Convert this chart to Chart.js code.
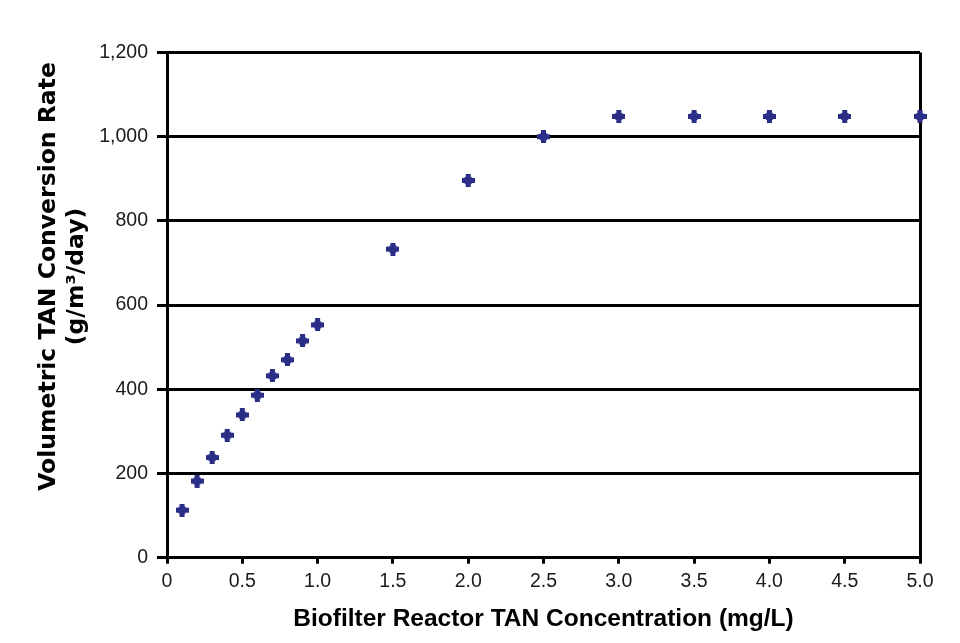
<!DOCTYPE html>
<html>
<head>
<meta charset="utf-8">
<script src="https://cdn.jsdelivr.net/npm/chart.js@4.4.1/dist/chart.umd.min.js"></script>
<style>
  html, body { margin: 0; padding: 0; background: #ffffff; }
  #wrap { width: 960px; height: 643px; position: relative; }
</style>
</head>
<body>
<div id="wrap"><canvas id="c"></canvas></div>
<script>
// ---- data ----
const tanConcentration = [0.1, 0.2, 0.3, 0.4, 0.5, 0.6, 0.7, 0.8, 0.9, 1.0, 1.5, 2.0, 2.5, 3.0, 3.5, 4.0, 4.5, 5.0];
const conversionRate   = [113, 182, 238, 291, 339, 386, 432, 470, 515, 553, 733, 896, 1000, 1048, 1048, 1048, 1048, 1048];
const xTickValues = [0, 0.5, 1.0, 1.5, 2.0, 2.5, 3.0, 3.5, 4.0, 4.5, 5.0];
const xTickLabels = ['0', '0.5', '1.0', '1.5', '2.0', '2.5', '3.0', '3.5', '4.0', '4.5', '5.0'];
const yTickLabels = ['0', '200', '400', '600', '800', '1,000', '1,200'];
const xTitle = 'Biofilter Reactor TAN Concentration (mg/L)';
const yTitle = ['Volumetric TAN Conversion Rate', '(g/m\u00B3/day)'];
const yTitleLead = '       '; // leading gap so the rotated title sits a little higher, as in the reference

// marker: rounded plus
function makeMarker() {
  const c = document.createElement('canvas');
  c.width = 13; c.height = 13;
  const g = c.getContext('2d');
  g.fillStyle = '#2b2e86';
  g.fillRect(0, 4, 13, 5);
  g.fillRect(4, 0, 5, 13);
  g.beginPath();
  g.arc(6.5, 6.5, 4.7, 0, Math.PI * 2);
  g.fill();
  return c;
}
const marker = makeMarker();

const points = tanConcentration.map((x, i) => ({ x: x, y: conversionRate[i] }));

new Chart(document.getElementById('c'), {
  type: 'scatter',
  data: {
    datasets: [{
      data: points,
      pointStyle: marker,
      pointRadius: 6,
      pointHoverRadius: 6,
      backgroundColor: '#2b2e86',
      borderColor: '#2b2e86',
      clip: false
    }]
  },
  options: {
    responsive: true,
    maintainAspectRatio: false,
    animation: false,
    devicePixelRatio: 1,
    layout: { padding: { left: 0, right: 40, top: 52.5, bottom: 0 } },
    plugins: { legend: { display: false }, tooltip: { enabled: false } },
    scales: {
      x: {
        type: 'linear',
        min: 0, max: 5,
        afterBuildTicks: (s) => { s.ticks = xTickValues.map(v => ({ value: v })); },
        afterFit: (s) => { s.height = 85.3; },
        ticks: {
          autoSkip: false,
          maxRotation: 0,
          padding: 6,
          color: '#1a1a1a',
          font: { family: 'Liberation Sans', size: 19.5 },
          callback: (v) => { const i = xTickValues.indexOf(v); return i >= 0 ? xTickLabels[i] : ''; }
        },
        grid: {
          drawOnChartArea: true,
          color: (ctx) => (ctx.tick && ctx.tick.value === 5) ? '#000000' : 'rgba(0,0,0,0)',
          tickColor: '#000000',
          lineWidth: 3,
          tickLength: 6
        },
        border: { display: true, color: '#000000', width: 3 },
        title: {
          display: true,
          text: xTitle,
          color: '#000000',
          font: { family: 'Liberation Sans', size: 24.5, weight: 'bold' },
          padding: { top: 0, bottom: 9 }
        }
      },
      y: {
        type: 'linear',
        min: 0, max: 1200,
        afterBuildTicks: (s) => { s.ticks = yTickLabels.map((t, i) => ({ value: i * 200 })); },
        afterFit: (s) => { s.width = 167; },
        ticks: {
          padding: 9,
          color: '#1a1a1a',
          font: { family: 'Liberation Sans', size: 19.5 },
          callback: (v) => yTickLabels[Math.round(v / 200)]
        },
        grid: {
          color: '#000000',
          tickColor: '#000000',
          lineWidth: 3,
          tickLength: 10
        },
        border: { display: true, color: '#000000', width: 3 },
        title: {
          display: true,
          text: yTitle.map(t => yTitleLead + t),
          color: '#000000',
          font: { family: 'DejaVu Sans', size: 23.5, weight: 'bold', lineHeight: '28px' },
          padding: { top: 35, bottom: 0 }
        }
      }
    }
  }
});
</script>
</body>
</html>
